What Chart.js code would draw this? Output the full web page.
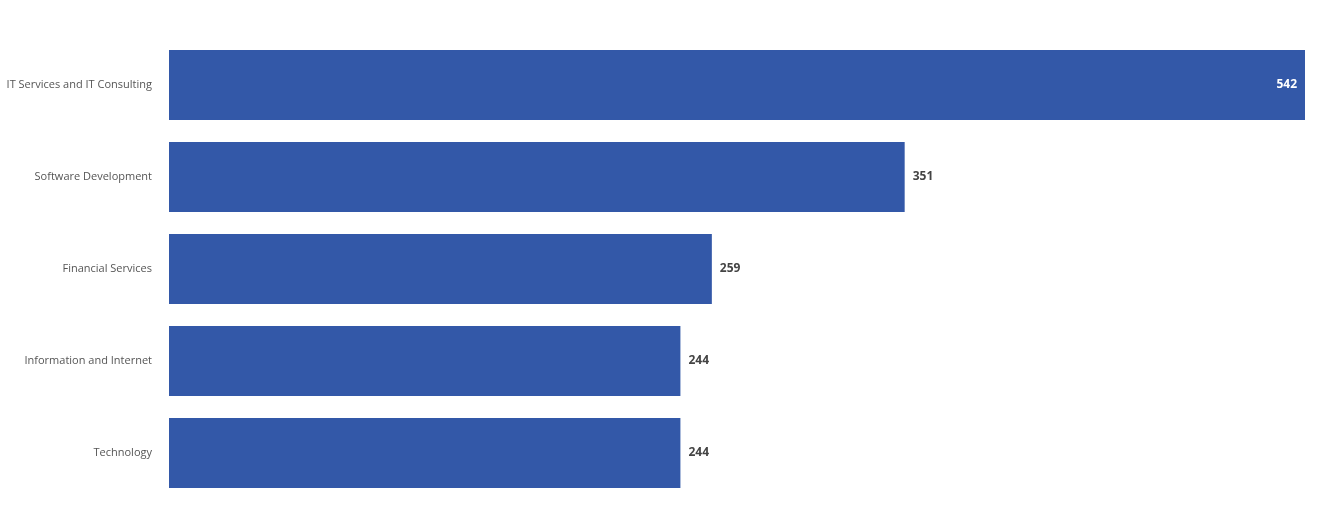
<!DOCTYPE html>
<html><head><meta charset="utf-8">
<script src="https://cdn.jsdelivr.net/npm/chart.js@4"></script>
<style>html,body{margin:0;padding:0;background:#fff}#w{width:1323px;height:527px}</style>
</head><body><div id="w"><canvas id="c"></canvas></div>
<script>
const categories = ["IT Services and IT Consulting","Software Development","Financial Services","Information and Internet","Technology"];
const values = [542,351,259,244,244];

const labelPlugin = {
  id:'lbl',
  afterDatasetsDraw(chart){
    const ctx=chart.ctx, meta=chart.getDatasetMeta(0);
    ctx.save();
    ctx.font='bold 12px "Open Sans", sans-serif';
    ctx.textBaseline='middle';
    meta.data.forEach((bar,i)=>{
      const v=values[i], t=String(v);
      const w=ctx.measureText(t).width;
      if(bar.x + 8 + w > chart.chartArea.right){
        ctx.fillStyle='#fff'; ctx.textAlign='right'; ctx.fillText(t,bar.x-8,bar.y);
      } else {
        ctx.fillStyle='#444'; ctx.textAlign='left'; ctx.fillText(t,bar.x+8,bar.y);
      }
    });
    ctx.restore();
  }
};

new Chart(document.getElementById('c'),{
  type:'bar',
  data:{labels:categories,datasets:[{data:values,backgroundColor:'#3358a8',barPercentage:0.76,categoryPercentage:1}]},
  options:{
    indexAxis:'y',responsive:true,maintainAspectRatio:false,animation:false,
    layout:{padding:{top:39,bottom:28,right:18,left:0}},
    plugins:{legend:{display:false},tooltip:{enabled:false}},
    scales:{
      x:{display:false,min:0,max:542},
      y:{grid:{display:false},border:{display:false},
         afterFit(s){s.width=169;},
         ticks:{padding:9,color:'#555',font:{family:'"Open Sans", sans-serif',size:11}}}
    }
  },
  plugins:[labelPlugin]
});
</script></body></html>
